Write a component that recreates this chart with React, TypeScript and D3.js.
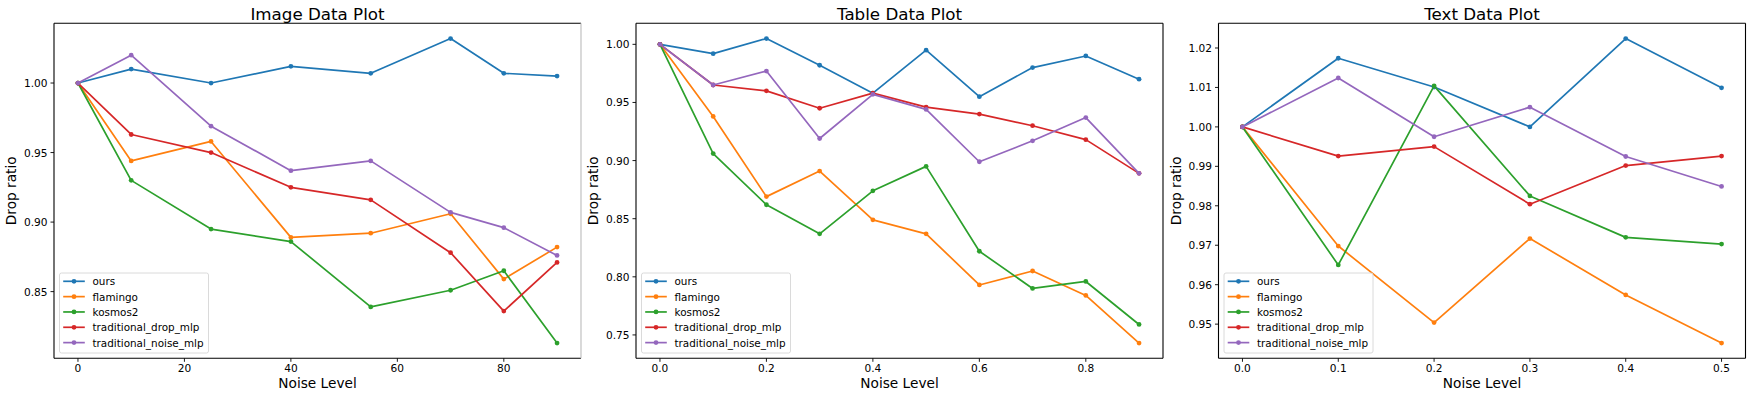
import { useEffect, useRef } from 'react';
import * as d3 from 'd3';

// ── Data ──
const seriesNames = ['ours', 'flamingo', 'kosmos2', 'traditional_drop_mlp', 'traditional_noise_mlp'];
const seriesColors = ['#1f77b4', '#ff7f0e', '#2ca02c', '#d62728', '#9467bd'];

const imageNoise = [0, 10, 25, 40, 55, 70, 80, 90];
const imageOurs = [1.0, 1.01, 1.0, 1.012, 1.007, 1.032, 1.007, 1.005];
const imageFlamingo = [1.0, 0.944, 0.958, 0.889, 0.892, 0.906, 0.859, 0.882];
const imageKosmos2 = [1.0, 0.93, 0.895, 0.886, 0.839, 0.851, 0.865, 0.813];
const imageDropMlp = [1.0, 0.963, 0.95, 0.925, 0.916, 0.878, 0.836, 0.871];
const imageNoiseMlp = [1.0, 1.02, 0.969, 0.937, 0.944, 0.907, 0.896, 0.876];
const imageXTicks = [0, 20, 40, 60, 80];
const imageYTicks = [0.85, 0.9, 0.95, 1.0];

const tableNoise = [0, 0.1, 0.2, 0.3, 0.4, 0.5, 0.6, 0.7, 0.8, 0.9];
const tableOurs = [1.0, 0.992, 1.005, 0.982, 0.958, 0.995, 0.955, 0.98, 0.99, 0.97];
const tableFlamingo = [1.0, 0.938, 0.869, 0.891, 0.849, 0.837, 0.793, 0.805, 0.784, 0.743];
const tableKosmos2 = [1.0, 0.906, 0.862, 0.837, 0.874, 0.895, 0.822, 0.79, 0.796, 0.759];
const tableDropMlp = [1.0, 0.965, 0.96, 0.945, 0.958, 0.946, 0.94, 0.93, 0.918, 0.889];
const tableNoiseMlp = [1.0, 0.965, 0.977, 0.919, 0.957, 0.944, 0.899, 0.917, 0.937, 0.889];
const tableXTicks = [0, 0.2, 0.4, 0.6, 0.8];
const tableYTicks = [0.75, 0.8, 0.85, 0.9, 0.95, 1.0];

const textNoise = [0, 0.1, 0.2, 0.3, 0.4, 0.5];
const textOurs = [1.0, 1.0174, 1.0101, 1.0, 1.0224, 1.0099];
const textFlamingo = [1.0, 0.9698, 0.9504, 0.9717, 0.9574, 0.9452];
const textKosmos2 = [1.0, 0.965, 1.0104, 0.9825, 0.972, 0.9703];
const textDropMlp = [1.0, 0.9926, 0.995, 0.9804, 0.9902, 0.9926];
const textNoiseMlp = [1.0, 1.0124, 0.9975, 1.005, 0.9925, 0.9849];
const textXTicks = [0, 0.1, 0.2, 0.3, 0.4, 0.5];
const textYTicks = [0.95, 0.96, 0.97, 0.98, 0.99, 1.0, 1.01, 1.02];

interface Panel {
  title: string;
  x: number[];
  series: number[][];
  xTicks: number[];
  yTicks: number[];
  xFormat: (d: number) => string;
  yFormat: (d: number) => string;
}

const panels: Panel[] = [
  {
    title: 'Image Data Plot',
    x: imageNoise,
    series: [imageOurs, imageFlamingo, imageKosmos2, imageDropMlp, imageNoiseMlp],
    xTicks: imageXTicks,
    yTicks: imageYTicks,
    xFormat: d3.format('d'),
    yFormat: d3.format('.2f'),
  },
  {
    title: 'Table Data Plot',
    x: tableNoise,
    series: [tableOurs, tableFlamingo, tableKosmos2, tableDropMlp, tableNoiseMlp],
    xTicks: tableXTicks,
    yTicks: tableYTicks,
    xFormat: d3.format('.1f'),
    yFormat: d3.format('.2f'),
  },
  {
    title: 'Text Data Plot',
    x: textNoise,
    series: [textOurs, textFlamingo, textKosmos2, textDropMlp, textNoiseMlp],
    xTicks: textXTicks,
    yTicks: textYTicks,
    xFormat: d3.format('.1f'),
    yFormat: d3.format('.2f'),
  },
];

const FONT = '"DejaVu Sans", Verdana, sans-serif';

// matplotlib-style 5% autoscale margin
function padded(ext: [number, number]): [number, number] {
  const m = (ext[1] - ext[0]) * 0.05;
  return [ext[0] - m, ext[1] + m];
}

function App() {
  const svgRef = useRef<SVGSVGElement>(null);

  useEffect(() => {
    document.body.style.margin = '0';
    if (!svgRef.current) return;
    const svg = d3.select(svgRef.current);
    svg.selectAll('*').remove();
    svg.append('rect').attr('width', 1752).attr('height', 401).attr('fill', '#fff');

    const lefts = [54, 636, 1218.5];
    const plotW = 527;
    const top = 23.3;
    const plotH = 335;

    panels.forEach((p, pi) => {
      const g = svg.append('g').attr('transform', `translate(${lefts[pi]},${top})`);
      const all = p.series.flat();
      const x = d3.scaleLinear().domain(padded(d3.extent(p.x) as [number, number])).range([0, plotW]);
      const y = d3.scaleLinear().domain(padded(d3.extent(all) as [number, number])).range([plotH, 0]);

      // Lines + markers
      p.series.forEach((vals, si) => {
        const pts = vals.map((v, i) => [x(p.x[i]), y(v)] as [number, number]);
        g.append('path')
          .attr('d', d3.line()(pts))
          .attr('fill', 'none')
          .attr('stroke', seriesColors[si])
          .attr('stroke-width', 1.7)
          .attr('stroke-linejoin', 'round');
        g.selectAll(null)
          .data(pts)
          .enter()
          .append('circle')
          .attr('cx', (d) => d[0])
          .attr('cy', (d) => d[1])
          .attr('r', 2.4)
          .attr('fill', seriesColors[si]);
      });

      // Spines
      const spine = (x1: number, y1: number, x2: number, y2: number, c = '#000') =>
        g.append('line')
          .attr('x1', x1).attr('y1', y1).attr('x2', x2).attr('y2', y2)
          .attr('stroke', c).attr('stroke-width', 1.1);
      spine(0, 0, plotW, 0);
      spine(0, plotH, plotW, plotH);
      spine(0, 0, 0, plotH);
      spine(plotW, 0, plotW, plotH, pi === 0 ? '#bbb' : '#000');

      // X axis ticks
      p.xTicks.forEach((t) => {
        const tx = x(t);
        g.append('line').attr('x1', tx).attr('x2', tx).attr('y1', plotH).attr('y2', plotH + 3.5)
          .attr('stroke', '#000').attr('stroke-width', 0.9);
        g.append('text')
          .attr('x', tx)
          .attr('y', plotH + 14.2)
          .attr('text-anchor', 'middle')
          .attr('font-size', 10.6)
          .attr('font-family', FONT)
          .attr('fill', '#000')
          .text(p.xFormat(t));
      });

      // Y axis ticks
      p.yTicks.forEach((t) => {
        const ty = y(t);
        g.append('line').attr('x1', -3.5).attr('x2', 0).attr('y1', ty).attr('y2', ty)
          .attr('stroke', '#000').attr('stroke-width', 0.9);
        g.append('text')
          .attr('x', -6.5)
          .attr('y', ty)
          .attr('text-anchor', 'end')
          .attr('dominant-baseline', 'central')
          .attr('font-size', 10.6)
          .attr('font-family', FONT)
          .attr('fill', '#000')
          .text(p.yFormat(t));
      });

      // Title and axis labels
      g.append('text')
        .attr('x', plotW / 2)
        .attr('y', -3.5)
        .attr('text-anchor', 'middle')
        .attr('font-size', 16.7)
        .attr('font-family', FONT)
        .attr('fill', '#000')
        .text(p.title);

      g.append('text')
        .attr('x', plotW / 2)
        .attr('y', plotH + 30)
        .attr('text-anchor', 'middle')
        .attr('font-size', 13.7)
        .attr('font-family', FONT)
        .attr('fill', '#000')
        .text('Noise Level');

      g.append('text')
        .attr('transform', `translate(-38,${plotH / 2}) rotate(-90)`)
        .attr('text-anchor', 'middle')
        .attr('font-size', 13.7)
        .attr('font-family', FONT)
        .attr('fill', '#000')
        .text('Drop ratio');

      // Legend (lower left)
      const lgW = 149;
      const lgH = 80;
      const lgX = 5.5;
      const lgY = plotH - 5.3 - lgH;
      const lg = g.append('g').attr('transform', `translate(${lgX},${lgY})`);
      lg.append('rect')
        .attr('width', lgW)
        .attr('height', lgH)
        .attr('rx', 2)
        .attr('fill', 'rgba(255,255,255,0.8)')
        .attr('stroke', '#d6d6d6')
        .attr('stroke-width', 0.9);
      seriesNames.forEach((name, si) => {
        const ry = 8.3 + si * 15.33;
        lg.append('line')
          .attr('x1', 3.7).attr('x2', 25.3).attr('y1', ry).attr('y2', ry)
          .attr('stroke', seriesColors[si]).attr('stroke-width', 1.7);
        lg.append('circle').attr('cx', 14.5).attr('cy', ry).attr('r', 2.4).attr('fill', seriesColors[si]);
        lg.append('text')
          .attr('x', 33)
          .attr('y', ry)
          .attr('dominant-baseline', 'central')
          .attr('font-size', 10.4)
          .attr('font-family', FONT)
          .attr('fill', '#000')
          .text(name);
      });
    });
  }, []);

  return <svg ref={svgRef} width={1752} height={401} style={{ display: 'block' }} />;
}

export default App;
